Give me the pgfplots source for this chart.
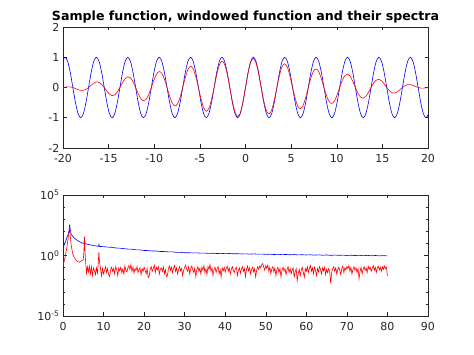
\documentclass[border=0pt]{standalone}
\usepackage{pgfplots}
\pgfplotsset{compat=1.18}
\usepackage{pgfplotstable}
\usepackage{fontspec}
\setmainfont{DejaVu Sans}
\definecolor{axgray}{RGB}{38,38,38}

\pgfplotstableread{
x b r
-20.067 0.866 0
-19.78 1 0.011
-19.493 0.866 0.022
-19.207 0.5 0.020
-18.92 0 0
-18.633 -0.5 -0.034
-18.347 -0.866 -0.072
-18.06 -1 -0.097
-17.773 -0.866 -0.096
-17.487 -0.5 -0.063
-17.2 0 0
-16.913 0.5 0.077
-16.627 0.866 0.146
-16.34 1 0.183
-16.053 0.866 0.171
-15.767 0.5 0.106
-15.48 0 0
-15.193 -0.5 -0.120
-14.907 -0.866 -0.221
-14.62 -1 -0.269
-14.333 -0.866 -0.245
-14.047 -0.5 -0.149
-13.76 0 0
-13.473 0.5 0.163
-13.187 0.866 0.295
-12.9 1 0.355
-12.613 0.866 0.320
-12.327 0.5 0.192
-12.04 0 0
-11.753 -0.5 -0.206
-11.467 -0.866 -0.370
-11.18 -1 -0.441
-10.893 -0.866 -0.394
-10.607 -0.5 -0.235
-10.32 0 0
-10.033 0.5 0.249
-9.747 0.866 0.444
-9.46 1 0.527
-9.173 0.866 0.469
-8.887 0.5 0.278
-8.6 0 0
-8.313 -0.5 -0.292
-8.027 -0.866 -0.518
-7.74 -1 -0.613
-7.453 -0.866 -0.543
-7.167 -0.5 -0.321
-6.88 0 0
-6.593 0.5 0.335
-6.307 0.866 0.593
-6.02 1 0.699
-5.733 0.866 0.618
-5.447 0.5 0.364
-5.16 0 0
-4.873 -0.5 -0.378
-4.587 -0.866 -0.667
-4.3 -1 -0.785
-4.013 -0.866 -0.692
-3.727 -0.5 -0.407
-3.44 0 0
-3.153 0.5 0.421
-2.867 0.866 0.742
-2.58 1 0.871
-2.293 0.866 0.767
-2.007 0.5 0.450
-1.72 0 0
-1.433 -0.5 -0.464
-1.147 -0.866 -0.816
-0.86 -1 -0.957
-0.573 -0.866 -0.841
-0.287 -0.5 -0.493
0 0 0
0.287 0.5 0.493
0.573 0.866 0.841
0.86 1 0.957
1.147 0.866 0.816
1.433 0.5 0.464
1.72 0 0
2.007 -0.5 -0.450
2.293 -0.866 -0.767
2.58 -1 -0.871
2.867 -0.866 -0.742
3.153 -0.5 -0.421
3.44 0 0
3.727 0.5 0.407
4.013 0.866 0.692
4.3 1 0.785
4.587 0.866 0.667
4.873 0.5 0.378
5.16 0 0
5.447 -0.5 -0.364
5.733 -0.866 -0.618
6.02 -1 -0.699
6.307 -0.866 -0.593
6.593 -0.5 -0.335
6.88 0 0
7.167 0.5 0.321
7.453 0.866 0.543
7.74 1 0.613
8.027 0.866 0.518
8.313 0.5 0.292
8.6 0 0
8.887 -0.5 -0.278
9.173 -0.866 -0.469
9.46 -1 -0.527
9.747 -0.866 -0.444
10.033 -0.5 -0.249
10.32 0 0
10.607 0.5 0.235
10.893 0.866 0.394
11.18 1 0.441
11.467 0.866 0.370
11.753 0.5 0.206
12.04 0 0
12.327 -0.5 -0.192
12.613 -0.866 -0.320
12.9 -1 -0.355
13.187 -0.866 -0.295
13.473 -0.5 -0.163
13.76 0 0
14.047 0.5 0.149
14.333 0.866 0.245
14.62 1 0.269
14.907 0.866 0.221
15.193 0.5 0.120
15.48 0 0
15.767 -0.5 -0.106
16.053 -0.866 -0.171
16.34 -1 -0.183
16.627 -0.866 -0.146
16.913 -0.5 -0.077
17.2 0 0
17.487 0.5 0.063
17.773 0.866 0.096
18.06 1 0.097
18.347 0.866 0.072
18.633 0.5 0.034
18.92 0 0
19.207 -0.5 -0.020
19.493 -0.866 -0.022
19.78 -1 -0.011
20.067 -0.866 0
}\topdata

\pgfplotstableread{
x y
0 4
0.25 7
0.5 11
0.75 18
1 33
1.25 50
1.5 120
1.64 380
1.75 150
2 60
2.25 45
2.5 35.5
2.75 28
3 24
3.5 18
4 14
4.5 11.7
5 10
5.2 10
5.3 31.6
5.4 9.6
6 8.5
6.5 7.9
7 7.2
7.5 6.8
8 6.3
8.5 5.9
8.75 5.75
8.85 8.3
9 5.6
9.5 5.5
10 5.4
11 4.9
12 4.8
13 4.2
14 4.0
15 3.7
16 3.4
17 3.3
18 2.95
19 2.9
20 2.6
21 2.55
22 2.35
23 2.33
24 2.15
25 2.12
26 2.0
27 1.98
28 1.82
29 1.80
30 1.68
31 1.70
32 1.62
33 1.66
34 1.55
35 1.58
36 1.48
37 1.54
38 1.45
39 1.50
40 1.42
41 1.46
42 1.38
43 1.41
44 1.33
45 1.38
46 1.30
47 1.36
48 1.28
49 1.31
50 1.24
51 1.29
52 1.20
53 1.26
54 1.17
55 1.22
56 1.14
57 1.20
58 1.12
59 1.16
60 1.10
61 1.15
62 1.07
63 1.13
64 1.05
65 1.11
66 1.02
67 1.09
68 1.03
69 1.07
70 1.00
71 1.06
72 0.98
73 1.04
74 0.96
75 1.02
76 0.95
77 1.00
78 0.93
79 0.98
80 0.92
}\bluespec

\pgfplotstableread{
x y
0 0.135
0.25 0.3
0.5 0.7
0.75 2
1 5.6
1.25 25
1.5 100
1.64 250
1.75 60
2 8
2.25 2.5
2.5 1.1
2.75 0.7
3 0.55
3.25 0.4
3.5 0.32
3.75 0.3
4 0.28
4.25 0.32
4.5 0.35
4.75 0.4
5 0.45
5.15 2
5.3 35.5
5.45 1.6
5.6 0.25
5.8 0.035
6 0.115
6.25 0.042
6.5 0.134
6.75 0.03
7 0.115
7.25 0.022
7.5 0.095
7.75 0.06
8 0.026
8.25 0.095
8.5 0.036
8.7 0.25
8.85 2.0
9 0.32
9.25 0.083
9.5 0.02
9.75 0.083
10 0.03
10.25 0.06
10.5 0.12
10.75 0.039
11 0.083
11.25 0.026
11.5 0.018
11.75 0.071
12 0.107
12.25 0.049
12.5 0.083
12.75 0.030
13 0.12
13.25 0.065
13.5 0.022
13.75 0.095
14 0.054
14.25 0.107
14.5 0.039
14.75 0.076
15 0.030
15.25 0.134
15.5 0.06
15.75 0.044
16 0.095
16.25 0.148
16.5 0.071
16.75 0.18
17 0.049
17.25 0.107
17.5 0.035
17.75 0.083
18 0.06
18.25 0.12
18.5 0.039
18.75 0.071
19 0.095
19.25 0.026
19.5 0.083
19.75 0.049
20 0.107
20.25 0.06
20.5 0.030
20.75 0.083
21 0.015
21.25 0.02
21.5 0.071
21.75 0.12
22 0.049
22.25 0.083
22.5 0.16
22.75 0.039
23 0.107
23.25 0.065
23.5 0.12
23.75 0.030
24 0.076
24.25 0.095
24.5 0.049
24.75 0.115
25 0.030
25.25 0.065
25.5 0.018
25.75 0.022
26 0.083
26.25 0.134
26.5 0.06
26.75 0.107
27 0.039
27.25 0.083
27.5 0.148
27.75 0.049
28 0.095
28.25 0.030
28.5 0.071
28.75 0.12
29 0.054
29.25 0.083
29.5 0.022
29.75 0.06
30 0.107
30.25 0.16
30.5 0.071
30.75 0.049
31 0.12
31.25 0.030
31.5 0.083
31.75 0.134
32 0.065
32.25 0.039
32.5 0.095
32.75 0.018
33 0.071
33.25 0.12
33.5 0.049
33.75 0.089
34 0.030
34.25 0.107
34.5 0.06
34.75 0.148
35 0.039
35.25 0.083
35.5 0.026
35.75 0.12
36 0.071
36.25 0.18
36.5 0.049
36.75 0.095
37 0.022
37.25 0.071
37.5 0.107
37.75 0.039
38 0.083
38.25 0.12
38.5 0.030
38.75 0.065
39 0.017
39.25 0.095
39.5 0.054
39.75 0.107
40 0.044
40.25 0.083
40.5 0.134
40.75 0.049
41 0.095
41.25 0.030
41.5 0.071
41.75 0.12
42 0.06
42.25 0.039
42.5 0.083
42.75 0.107
43 0.022
43.25 0.06
43.5 0.095
43.75 0.035
44 0.076
44.25 0.12
44.5 0.049
44.75 0.083
45 0.018
45.25 0.071
45.5 0.134
45.75 0.054
46 0.095
46.25 0.030
46.5 0.071
46.75 0.107
47 0.044
47.25 0.083
47.5 0.017
47.75 0.06
48 0.12
48.25 0.071
48.5 0.134
48.75 0.095
49 0.18
49.25 0.22
49.5 0.107
49.75 0.06
50 0.148
50.25 0.083
50.5 0.16
50.75 0.049
51 0.107
51.25 0.030
51.5 0.083
51.75 0.12
52 0.044
52.25 0.095
52.5 0.022
52.75 0.071
53 0.107
53.25 0.039
53.5 0.083
53.75 0.018
54 0.06
54.25 0.107
54.5 0.049
54.75 0.083
55 0.026
55.25 0.071
55.5 0.12
55.75 0.039
56 0.083
56.25 0.030
56.5 0.06
56.75 0.095
57 0.017
57.25 0.044
57.5 0.083
57.75 0.008
58 0.030
58.25 0.071
58.5 0.022
58.75 0.06
59 0.107
59.25 0.039
59.5 0.016
59.75 0.083
60 0.049
60.25 0.12
60.5 0.039
60.75 0.083
61 0.148
61.25 0.049
61.5 0.095
61.75 0.030
62 0.107
62.25 0.06
62.5 0.022
62.75 0.083
63 0.044
63.25 0.12
63.5 0.071
63.75 0.030
64 0.095
64.25 0.054
64.5 0.107
64.75 0.026
65 0.071
65.25 0.039
65.5 0.083
65.75 0.049
66 0.005
66.25 0.039
66.5 0.083
66.75 0.12
67 0.049
67.25 0.095
67.5 0.030
67.75 0.071
68 0.107
68.25 0.06
68.5 0.026
68.75 0.083
69 0.134
69.25 0.039
69.5 0.095
69.75 0.065
70 0.12
70.25 0.083
70.5 0.148
70.75 0.049
71 0.107
71.25 0.030
71.5 0.071
71.75 0.12
72 0.06
72.25 0.095
72.5 0.039
72.75 0.083
73 0.012
73.25 0.049
73.5 0.107
73.75 0.030
74 0.071
74.25 0.12
74.5 0.06
74.75 0.095
75 0.039
75.25 0.134
75.5 0.071
75.75 0.107
76 0.049
76.25 0.083
76.5 0.148
76.75 0.06
77 0.107
77.25 0.039
77.5 0.095
77.75 0.134
78 0.065
78.25 0.107
78.5 0.049
78.75 0.12
79 0.071
79.25 0.134
79.5 0.083
79.75 0.107
80 0.02
}\redspec

\pgfplotsset{
  oct/.style={
    scale only axis, width=365pt, height=121pt, anchor=south west,
    axis line style={axgray, line width=0.5pt},
    tick style={axgray, line width=0.5pt},
    tick align=inside, xtick pos=both, ytick pos=both,
    xticklabel pos=lower, yticklabel pos=left,
    major tick length=3.5pt, minor tick length=2pt,
    ticklabel style={font=\fontsize{11}{13}\selectfont, text=axgray},
    xticklabel style={yshift=-3pt},
    /pgf/number format/assume math mode=true,
  }
}

\begin{document}
\begin{tikzpicture}
\path[use as bounding box] (0,0) rectangle (474pt,355pt);
\begin{axis}[oct, at={(63pt,207pt)},
  xmin=-20, xmax=20, ymin=-2, ymax=2,
  xtick={-20,-15,-10,-5,0,5,10,15,20}, ytick={-2,-1,0,1,2}]
\addplot[blue, line width=0.6pt, smooth, no markers] table[x=x, y=b] {\topdata};
\addplot[red, line width=0.6pt, smooth, no markers] table[x=x, y=r] {\topdata};
\end{axis}
\begin{axis}[oct, at={(63pt,39pt)}, ymode=log,
  xmin=0, xmax=90, ymin=1e-5, ymax=1e5,
  xtick={0,10,...,90},
  ytick={1e-5,1,1e5},
  yticklabels={10\textsuperscript{-5},10\textsuperscript{0},10\textsuperscript{5}},
  minor ytick={1e-4,1e-3,1e-2,1e-1,10,100,1e3,1e4}]
\addplot[blue, line width=0.6pt, no markers] table[x=x, y=y] {\bluespec};
\addplot[red, line width=0.6pt, no markers] table[x=x, y=y] {\redspec};
\end{axis}
\node[font=\bfseries\fontsize{12.6}{14}\selectfont, anchor=base] at (245.5pt,334pt)
  {Sample function, windowed function and their spectra};
\end{tikzpicture}
\end{document}
